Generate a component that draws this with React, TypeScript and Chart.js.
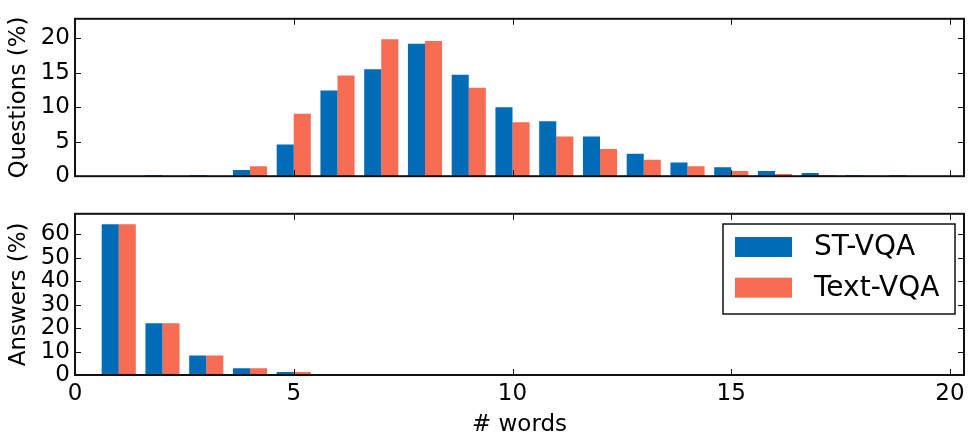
import React, { useEffect, useRef } from "react";
import { Chart, registerables } from "chart.js";
Chart.register(...registerables);

const words = [1, 2, 3, 4, 5, 6, 7, 8, 9, 10, 11, 12, 13, 14, 15, 16, 17, 18, 19];
const stvqaQuestions = [0, 0.12, 0.12, 0.9, 4.6, 12.4, 15.5, 19.2, 14.7, 10.0, 7.95, 5.75, 3.25, 2.0, 1.3, 0.75, 0.45, 0.15, 0.12];
const textvqaQuestions = [0, 0.03, 0.03, 1.45, 9.05, 14.6, 19.85, 19.6, 12.8, 7.8, 5.75, 3.95, 2.4, 1.45, 0.75, 0.33, 0.18, 0.05, 0.02];
const stvqaAnswers = [64.2, 22.1, 8.3, 2.9, 1.3, 0.45, 0.15, 0.05, 0.03, 0, 0, 0, 0, 0, 0, 0, 0, 0, 0];
const textvqaAnswers = [64.2, 22.1, 8.3, 2.9, 1.3, 0.45, 0.12, 0.04, 0.02, 0, 0, 0, 0, 0, 0, 0, 0, 0, 0];
const seriesNames = ["ST-VQA", "Text-VQA"];
const xTicks = [0, 5, 10, 15, 20];
const qTicks = [0, 5, 10, 15, 20];
const aTicks = [0, 10, 20, 30, 40, 50, 60];

const BLUE = "#006CB7";
const ORANGE = "#F76D53";
const FONT = "'DejaVu Sans', sans-serif";

const framePlugin = {
  id: "frame",
  afterDraw(chart: any) {
    const { ctx, chartArea: a, scales } = chart;
    ctx.save();
    ctx.strokeStyle = "#111";
    ctx.lineWidth = 1;
    const tl = 6;
    ctx.beginPath();
    for (const t of scales.x.ticks) {
      const px = Math.round(scales.x.getPixelForValue(t.value)) + 0.5;
      ctx.moveTo(px, a.bottom);
      ctx.lineTo(px, a.bottom - tl);
      ctx.moveTo(px, a.top);
      ctx.lineTo(px, a.top + tl);
    }
    for (const t of scales.y.ticks) {
      const py = Math.round(scales.y.getPixelForValue(t.value)) + 0.5;
      ctx.moveTo(a.left, py);
      ctx.lineTo(a.left + tl, py);
      ctx.moveTo(a.right, py);
      ctx.lineTo(a.right - tl, py);
    }
    ctx.stroke();
    ctx.lineWidth = 2;
    ctx.strokeStyle = "#111";
    ctx.strokeRect(a.left, a.top, a.right - a.left, a.bottom - a.top);
    ctx.restore();
  },
};

const legendPlugin = {
  id: "boxLegend",
  afterDraw(chart: any) {
    if (!chart.options.plugins.boxLegend?.show) return;
    const { ctx } = chart;
    const x = 723, y = 29, w = 232, h = 90;
    ctx.save();
    ctx.fillStyle = "#fff";
    ctx.fillRect(x, y, w, h);
    ctx.strokeStyle = "#111";
    ctx.lineWidth = 1.5;
    ctx.strokeRect(x, y, w, h);
    ctx.font = `28px ${FONT}`;
    ctx.textBaseline = "middle";
    chart.data.datasets.forEach((ds: any, i: number) => {
      const cy = y + 23 + i * 40.7;
      ctx.fillStyle = ds.backgroundColor;
      ctx.fillRect(x + 12, cy - 10, 57, 20);
      ctx.fillStyle = "#000";
      ctx.fillText(ds.label, x + 91, cy + 1);
    });
    ctx.restore();
  },
};

function makeConfig(st: number[], tx: number[], yTicks: number[], yMax: number, yTitle: string, bottom: boolean, showLegend: boolean, padTop: number, padBottom: number) {
  return {
    type: "bar",
    data: {
      datasets: [
        { label: seriesNames[0], data: words.map((w, i) => ({ x: w, y: st[i] })), backgroundColor: BLUE, borderWidth: 0 },
        { label: seriesNames[1], data: words.map((w, i) => ({ x: w, y: tx[i] })), backgroundColor: ORANGE, borderWidth: 0 },
      ],
    },
    options: {
      responsive: false,
      animation: false,
      devicePixelRatio: 1,
      categoryPercentage: 0.78,
      barPercentage: 1.0,
      layout: { padding: { left: 0, right: 7, top: padTop, bottom: padBottom } },
      plugins: {
        legend: { display: false },
        tooltip: { enabled: false },
        boxLegend: { show: showLegend },
      },
      scales: {
        x: {
          type: "linear",
          min: 0,
          max: 20.32,
          offset: false,
          display: true,
          grid: { display: false, drawTicks: false },
          border: { display: false },
          afterBuildTicks: (s: any) => { s.ticks = xTicks.map((v) => ({ value: v })); },
          afterFit: (s: any) => { s.height = bottom ? 72 : 0; },
          ticks: { display: bottom, autoSkip: false, color: "#000", font: { family: FONT, size: 23 }, padding: 5, maxRotation: 0 },
          title: { display: bottom, text: "# words", color: "#000", font: { family: FONT, size: 23 }, padding: { top: 0, bottom: 8 } },
        },
        y: {
          min: 0,
          max: yMax,
          grid: { display: false, drawTicks: false },
          border: { display: false },
          afterBuildTicks: (s: any) => { s.ticks = yTicks.map((v) => ({ value: v })); },
          afterFit: (s: any) => { s.width = 75; },
          ticks: { autoSkip: false, color: "#000", font: { family: FONT, size: 23 }, padding: 5 },
          title: { display: true, text: yTitle, color: "#000", font: { family: FONT, size: 23 }, padding: { top: 5, bottom: 0 } },
        },
      },
    },
    plugins: [framePlugin, legendPlugin],
  };
}

export default function App() {
  const ref1 = useRef<HTMLCanvasElement>(null);
  const ref2 = useRef<HTMLCanvasElement>(null);
  useEffect(() => {
    const c1 = new Chart(ref1.current as any, makeConfig(stvqaQuestions, textvqaQuestions, qTicks, 22.8, "Questions (%)", false, false, 13, 18) as any);
    const c2 = new Chart(ref2.current as any, makeConfig(stvqaAnswers, textvqaAnswers, aTicks, 68.7, "Answers (%)", true, true, 15, 0) as any);
    return () => { c1.destroy(); c2.destroy(); };
  }, []);
  return (
    <div style={{ position: "absolute", left: 0, top: 0, width: 971, height: 447, background: "#fff" }}>
      <canvas ref={ref1} width={971} height={195} style={{ position: "absolute", left: 0, top: 0, display: "block" }} />
      <canvas ref={ref2} width={971} height={252} style={{ position: "absolute", left: 0, top: 195, display: "block" }} />
    </div>
  );
}
